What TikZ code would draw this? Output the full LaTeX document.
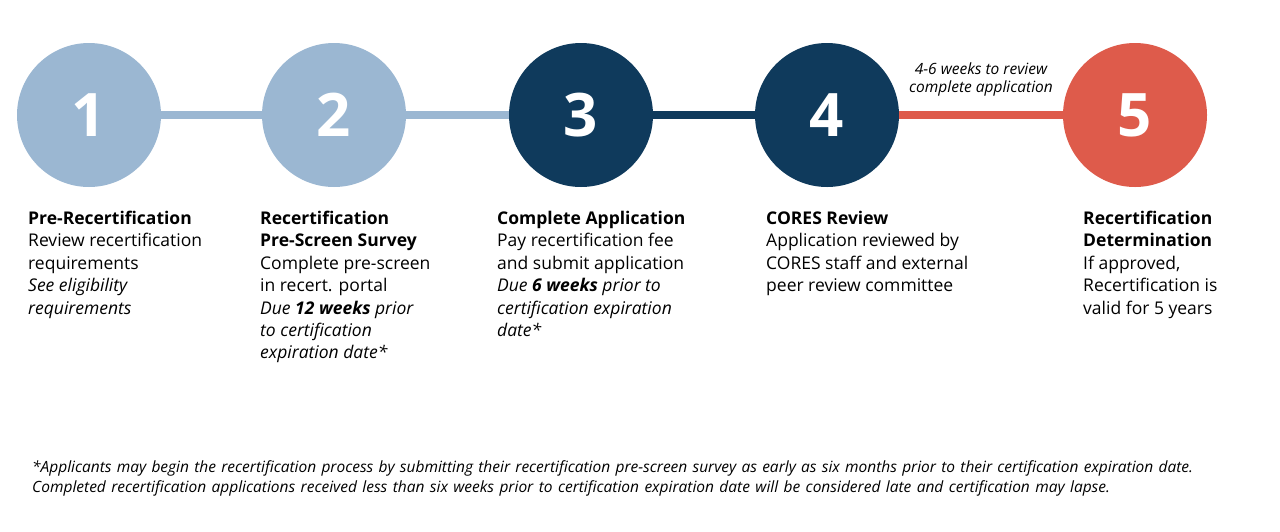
\documentclass[tikz,border=0pt]{standalone}
\usepackage{fontspec}
\setmainfont{Open Sans}
\definecolor{lblue}{HTML}{9BB7D2}
\definecolor{navy}{HTML}{0F3A5C}
\definecolor{coral}{HTML}{DE5B4B}
\begin{document}
\begin{tikzpicture}[x=1pt,y=1pt,
  stepcirc/.style={circle,inner sep=0pt,minimum size=144pt,text=white,font=\fontsize{60}{60}\selectfont\bfseries},
  link/.style={line width=8pt},
  desc/.style={anchor=north west,align=left,inner sep=0pt,font=\fontsize{17.5}{22.4}\selectfont},
  note/.style={anchor=west,inner sep=0pt,font=\fontsize{15.5}{18}\selectfont\itshape}]
\useasboundingbox (0,0) rectangle (1280,-531);
\node[stepcirc,fill=lblue] (c1) at (89,-115) {1};
\node[stepcirc,fill=lblue] (c2) at (334,-115) {2};
\node[stepcirc,fill=navy] (c3) at (581,-115) {3};
\node[stepcirc,fill=navy] (c4) at (827,-115) {4};
\node[stepcirc,fill=coral] (c5) at (1135,-115) {5};
\draw[link,lblue] (c1) -- (c2);
\draw[link,lblue] (c2) -- (c3);
\draw[link,navy] (c3) -- (c4);
\draw[link,coral] (c4) -- (c5);
\node[anchor=south,align=center,inner sep=0pt,font=\fontsize{15.5}{17.5}\selectfont\itshape] (lab) at (981,-96) {4-6 weeks to review\\complete application};
\node[desc] (t1) at (28,-211) {\textbf{Pre-Recertification}\\Review recertification\\requirements\\\textit{See eligibility}\\\textit{requirements}};
\node[desc] (t2) at (260,-211) {\textbf{Recertification}\\\textbf{Pre-Screen Survey}\\Complete pre-screen\\in recert. portal\\\textit{Due \textbf{12 weeks} prior}\\\textit{to certification}\\\textit{expiration date*}};
\node[desc] (t3) at (497,-211) {\textbf{Complete Application}\\Pay recertification fee\\and submit application\\\textit{Due \textbf{6 weeks} prior to}\\\textit{certification expiration}\\\textit{date*}};
\node[desc] (t4) at (766,-211) {\textbf{CORES Review}\\Application reviewed by\\CORES staff and external\\peer review committee};
\node[desc] (t5) at (1083,-211) {\textbf{Recertification}\\\textbf{Determination}\\If approved,\\Recertification is\\valid for 5 years};
\node[note] (n1) at (32,-468) {\hbox to 1161pt{*Applicants may begin the recertification process by submitting their recertification pre-screen survey as early as six months prior to their certification expiration date.}};
\node[note] (n2) at (32,-488) {\hbox to 1078pt{Completed recertification applications received less than six weeks prior to certification expiration date will be considered late and certification may lapse.}};
\end{tikzpicture}
\end{document}
